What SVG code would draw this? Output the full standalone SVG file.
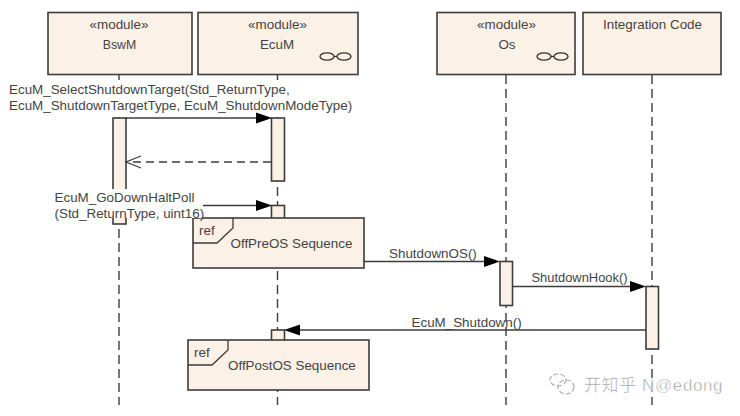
<svg xmlns="http://www.w3.org/2000/svg" width="740" height="416" viewBox="0 0 740 416">
<style>
.box{fill:#fbf1e6;stroke:#3c3c3c;stroke-width:1.6}
.life{fill:none;stroke:#3c3c3c;stroke-width:1.4;stroke-dasharray:9 5}
.msg{fill:none;stroke:#3c3c3c;stroke-width:1.3}
.dash{stroke-dasharray:8 5}
.head{fill:#000}
.open{fill:none;stroke:#3c3c3c;stroke-width:1.3}
.mask{fill:#fff}
text{font-family:"Liberation Sans",Arial,sans-serif;font-size:13.4px;fill:#444}
.m{text-anchor:middle}
.wm{font-size:17px;letter-spacing:.6px;fill:#9c9c9c;stroke:#fff;stroke-width:.5;font-family:"Liberation Sans","Noto Sans CJK SC",sans-serif}
.wmi{fill:none;stroke:#b0b0b0;stroke-width:1.2;stroke-dasharray:5 2}
</style>
<defs>
<g id="glasses"><ellipse cx="-8" cy="0" rx="7" ry="3.700" fill="none" stroke="#333" stroke-width="1.300"/><ellipse cx="9" cy="0" rx="7" ry="3.700" fill="none" stroke="#333" stroke-width="1.300"/><path d="M-1 0H2" stroke="#333" stroke-width="1.300"/></g>
</defs>
<rect width="740" height="416" fill="#fff"/>
<g id="lifelines">
<path class="life" d="M119 75V405"/>
<path class="life" d="M277.500 75V405"/>
<path class="life" d="M506 75V405"/>
<path class="life" d="M652 75V405"/>
</g>
<g id="node-bswm"><rect class="box" x="48" y="12.500" width="144" height="62"/><text class="m" x="119" y="29">«module»</text><text class="m" x="119.500" y="49" style="font-size:12.300px">BswM</text></g>
<g id="node-ecum"><rect class="box" x="198" y="12.500" width="160" height="62"/><text class="m" x="277.500" y="29">«module»</text><text class="m" x="277" y="49">EcuM</text><use href="#glasses" x="335" y="56.500"/></g>
<g id="node-os"><rect class="box" x="437" y="12.500" width="138" height="62"/><text class="m" x="506.500" y="29">«module»</text><text class="m" x="507" y="49">Os</text><use href="#glasses" x="552" y="56.500"/></g>
<g id="node-integration"><rect class="box" x="583" y="12.500" width="138" height="62"/><text class="m" x="652.500" y="29">Integration Code</text></g>
<g id="activations">
<rect class="box" x="113" y="118" width="13" height="106"/>
<rect class="box" x="271.500" y="118" width="13" height="63"/>
<rect class="box" x="271.500" y="205.500" width="13" height="14"/>
<rect class="box" x="271.500" y="330" width="13" height="12"/>
<rect class="box" x="500" y="261.500" width="12.500" height="44"/>
<rect class="box" x="646" y="286.500" width="12.500" height="62.500"/>
</g>
<g id="node-ref-pre"><rect class="box" x="193" y="218" width="171" height="50"/><path class="msg" d="M233 218V228L217 243H193"/><text x="199" y="235">ref</text><text x="230.500" y="248">OffPreOS Sequence</text></g>
<g id="node-ref-post"><rect class="box" x="188" y="340" width="181" height="50"/><path class="msg" d="M228 340V350L212 365H188"/><text x="194" y="357">ref</text><text x="228" y="370">OffPostOS Sequence</text></g>
<g id="label-masks">
<rect class="mask" x="9" y="80" width="346" height="36.500"/>
<rect class="mask" x="54" y="189" width="148" height="29"/>
</g>
<g id="connectors">
<path class="msg" d="M126 118H258"/><path class="head" d="M256 112.500L272 118L256 123.500Z"/>
<path class="msg dash" d="M271 162H128"/><path class="open" d="M141 156L126 162L141 168"/>
<path class="msg" d="M203 205.500H258"/><path class="head" d="M256 200L272 205.500L256 211Z"/>
<path class="msg" d="M364 261.500H487"/><path class="head" d="M484 256L500 261.500L484 267Z"/>
<path class="msg" d="M512.500 286.500H632"/><path class="head" d="M630 281L646 286.500L630 292Z"/>
<path class="msg" d="M646 330H298"/><path class="head" d="M300 324.500L284 330L300 335.500Z"/>
</g>
<g id="labels">
<text x="9" y="94">EcuM_SelectShutdownTarget(Std_ReturnType,</text>
<text x="9" y="110">EcuM_ShutdownTargetType, EcuM_ShutdownModeType)</text>
<text x="54.500" y="202">EcuM_GoDownHaltPoll</text>
<text x="54.500" y="218">(Std_ReturnType, uint16)</text>
<text x="389" y="258">ShutdownOS()</text>
<text x="531.500" y="282" style="font-size:12.900px">ShutdownHook()</text>
<text x="411.500" y="327">EcuM_Shutdown()</text>
</g>
<g id="watermark">
<ellipse class="wmi" cx="558" cy="380" rx="8" ry="6"/><ellipse class="wmi" cx="566" cy="387" rx="8" ry="7"/>
<text class="wm" x="584" y="391">开知乎 N@edong</text>
</g>
</svg>
